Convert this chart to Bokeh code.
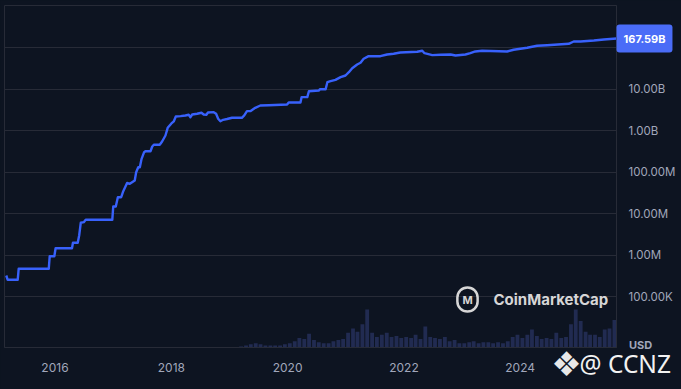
import pandas as pd
from bokeh.plotting import figure
from bokeh.layouts import column
from bokeh.models import Range1d, LinearScale, FixedTicker, DatetimeTickFormatter, Label
from bokeh.embed import file_html
from bokeh.resources import INLINE

# ---------------- data ----------------
dates = [
    "2015-03-01", "2015-03-10", "2015-05-12", "2015-05-18", "2015-11-23", "2015-11-29",
    "2015-12-28", "2016-01-05", "2016-04-17", "2016-04-23", "2016-05-23", "2016-06-01",
    "2016-06-11", "2016-06-30", "2016-07-12", "2016-12-26", "2017-01-01", "2017-01-17",
    "2017-01-30", "2017-02-20", "2017-03-05", "2017-03-29", "2017-04-15", "2017-05-16",
    "2017-05-25", "2017-06-07", "2017-06-17", "2017-06-28", "2017-07-14", "2017-07-22",
    "2017-08-23", "2017-09-03", "2017-09-13", "2017-10-20", "2017-11-04", "2017-11-25",
    "2017-12-09", "2017-12-31", "2018-01-16", "2018-01-29", "2018-02-28", "2018-03-30",
    "2018-04-20", "2018-05-01", "2018-05-12", "2018-06-12", "2018-07-09", "2018-07-23",
    "2018-08-09", "2018-08-19", "2018-09-24", "2018-10-09", "2018-10-22", "2018-11-05",
    "2018-11-22", "2018-12-17", "2019-01-17", "2019-03-20", "2019-04-04", "2019-04-21",
    "2019-05-12", "2019-06-12", "2019-07-14", "2019-09-05", "2019-12-29", "2020-01-08",
    "2020-03-22", "2020-03-29", "2020-05-04", "2020-05-14", "2020-07-16", "2020-07-22",
    "2020-08-27", "2020-09-07", "2020-09-27", "2020-10-28", "2020-11-29", "2020-12-30",
    "2021-01-20", "2021-02-10", "2021-03-13", "2021-04-03", "2021-04-23", "2021-05-24",
    "2021-08-06", "2021-09-17", "2021-10-28", "2021-12-09", "2022-03-25", "2022-04-26",
    "2022-05-10", "2022-06-28", "2022-08-19", "2022-10-21", "2022-11-21", "2023-01-22",
    "2023-02-22", "2023-03-25", "2023-05-07", "2023-10-11", "2023-11-21", "2024-02-14",
    "2024-04-16", "2024-06-18", "2024-11-01", "2024-12-02", "2025-01-14", "2025-04-08",
    "2025-06-10", "2025-08-28",
]
market_cap = [
    326e3, 257e3, 257e3, 473e3, 473e3, 951e3,
    951e3, 1.48e6, 1.48e6, 2.0e6, 2.0e6, 3.0e6,
    6.07e6, 6.28e6, 7.16e6, 7.16e6, 15.0e6, 15.0e6,
    25.1e6, 25.1e6, 35.1e6, 55.2e6, 52.8e6, 63.4e6,
    100e6, 132.7e6, 132.7e6, 211e6, 305e6, 322e6,
    322e6, 419e6, 460e6, 460e6, 552e6, 771e6,
    1.18e9, 1.48e9, 1.68e9, 2.21e9, 2.25e9, 2.34e9,
    2.43e9, 2.13e9, 2.47e9, 2.57e9, 2.72e9, 2.47e9,
    2.43e9, 2.76e9, 2.81e9, 2.57e9, 1.95e9, 1.70e9,
    1.84e9, 1.92e9, 2.06e9, 2.06e9, 2.34e9, 2.97e9,
    2.97e9, 3.58e9, 4.07e9, 4.14e9, 4.31e9, 4.81e9,
    4.81e9, 6.46e9, 6.46e9, 9.0e9, 9.35e9, 10.0e9,
    10.0e9, 14.8e9, 15.7e9, 16.9e9, 19.6e9, 21.5e9,
    25.8e9, 32.2e9, 39.6e9, 43.5e9, 54.3e9, 62.8e9,
    62.8e9, 69.0e9, 71.7e9, 77.1e9, 80.2e9, 84.7e9,
    74.1e9, 66.4e9, 67.8e9, 69.0e9, 65.2e9, 69.0e9,
    74.1e9, 81.5e9, 84.7e9, 81.5e9, 89.6e9, 100e9,
    111.7e9, 115.5e9, 124.8e9, 141.8e9, 141.8e9, 150e9,
    158.5e9, 167.59e9,
]

# monthly trading volume (billions USD), Mar 2019 .. Aug 2025
vol_2019 = [0.25, 0.5, 0.75, 1.0, 0.75, 0.5, 0.5, 0.5, 0.5, 0.75]
vol_2020 = [1.0, 1.5, 2.25, 2.0, 3.25, 1.75, 1.25, 1.0, 1.0, 1.5, 1.75, 2.0]
vol_2021 = [3.5, 4.5, 3.75, 5.5, 9.0, 3.5, 2.5, 3.0, 3.5, 2.5, 2.75, 2.25]
vol_2022 = [2.5, 2.25, 3.0, 2.0, 5.0, 2.5, 2.25, 2.0, 2.5, 1.5, 1.75, 1.0]
vol_2023 = [1.0, 1.25, 1.5, 1.0, 1.25, 1.25, 1.0, 1.25, 1.0, 1.5, 2.5, 3.0]
vol_2024 = [2.25, 3.0, 4.25, 2.75, 2.0, 2.25, 2.0, 3.5, 2.25, 2.5, 5.5, 9.0]
vol_2025 = [6.25, 3.75, 3.0, 3.0, 2.5, 4.25, 4.5, 6.5]
volume = vol_2019 + vol_2020 + vol_2021 + vol_2022 + vol_2023 + vol_2024 + vol_2025
vol_months = list(pd.date_range("2019-03-01", periods=len(volume), freq="MS") + pd.Timedelta(days=14))

y_tick_values = [1e5, 1e6, 1e7, 1e8, 1e9, 1e10, 1e11]
y_tick_labels = ["100.00K", "1.00M", "10.00M", "100.00M", "1.00B", "10.00B", ""]
x_tick_years = [2016, 2018, 2020, 2022, 2024]

# ---------------- style ----------------
BG = "#0d1421"
GRID = "#272b37"
LINE = "#3861fb"
BADGE = "#4a6cf7"
TXT = "#a1a7bb"
VOL = "#242e56"
FONT = "Inter"
W, H = 681, 389

dts = pd.to_datetime(dates)
x_start = pd.Timestamp("2015-02-18")
x_end = dts[-1]

p = figure(width=W, height=H, x_axis_type="datetime", y_axis_type="log",
           y_axis_location="right", output_backend="svg", toolbar_location=None,
           x_range=Range1d(x_start, x_end), y_range=Range1d(6000, 1.045e12),
           min_border_left=4, min_border_top=5, min_border_right=65, min_border_bottom=42,
           background_fill_color=BG, border_fill_color=BG,
           outline_line_color=GRID, outline_line_width=1)
p.frame_align = False

p.extra_y_ranges = {"vol": Range1d(0, max(volume) * 9)}
p.extra_y_scales = {"vol": LinearScale()}

p.vbar(x=vol_months, top=volume, bottom=0, width=24 * 86400000, y_range_name="vol",
       fill_color=VOL, line_color=None, fill_alpha=0.9)
p.line(dts, market_cap, line_width=2.4, line_color=LINE, line_join="round")

# axes
yt = FixedTicker(ticks=y_tick_values)
p.yaxis.ticker = yt
p.ygrid.ticker = yt
p.yaxis.major_label_overrides = dict(zip(y_tick_values, y_tick_labels))
xt = FixedTicker(ticks=[pd.Timestamp(f"{y}-01-01").value / 1e6 for y in x_tick_years])
p.xaxis.ticker = xt
p.xaxis.formatter = DatetimeTickFormatter(years="%Y", months="%Y", days="%Y", hours="%Y",
                                          minutes="%Y", seconds="%Y", milliseconds="%Y",
                                          microseconds="%Y", hourmin="%Y", minsec="%Y")
p.xgrid.visible = False
p.ygrid.grid_line_color = GRID
p.ygrid.grid_line_width = 1
for ax in (p.xaxis[0], p.yaxis[0]):
    ax.axis_line_color = GRID
    ax.major_tick_line_color = None
    ax.minor_tick_line_color = None
    ax.major_label_text_color = TXT
    ax.major_label_text_font = FONT
p.yaxis.major_label_text_font_size = "11.5px"
p.yaxis.major_label_standoff = 6
p.xaxis.major_label_text_font_size = "12px"
p.xaxis.major_label_standoff = 9

# CoinMarketCap watermark (inside the frame)
p.add_layout(Label(x=463, y=48, x_units="screen", y_units="screen", text="M",
                   text_font=FONT, text_font_size="11px", text_font_style="bold",
                   text_color="#d6d6d6", text_align="center", text_baseline="middle",
                   border_line_color="#d6d6d6", border_line_width=2.5, border_radius=11,
                   padding=5))
p.add_layout(Label(x=489, y=48, x_units="screen", y_units="screen", text="CoinMarketCap",
                   text_font=FONT, text_font_size="15px", text_font_style="bold",
                   text_color="#d6d6d6", text_align="left", text_baseline="middle"))

# ---------------- transparent overlay for texts outside the plot frame ----------------
q = figure(width=W, height=H, output_backend="svg", toolbar_location=None,
           x_axis_location=None, y_axis_location=None,
           x_range=Range1d(0, W), y_range=Range1d(0, H), min_border=0,
           background_fill_alpha=0, border_fill_alpha=0, outline_line_color=None)
q.grid.visible = False
q.frame_align = False
q.margin = (-H, 0, 0, 0)

# current value badge
q.add_layout(Label(x=616, y=351, x_units="screen", y_units="screen",
                   text=f"{market_cap[-1] / 1e9:.2f}B",
                   text_align="left", text_baseline="middle",
                   text_font=FONT, text_font_size="11px", text_font_style="bold",
                   text_color="white", background_fill_color=BADGE, border_radius=3,
                   padding=7))
# unit label
q.add_layout(Label(x=640, y=45, x_units="screen", y_units="screen", text="USD",
                   text_font=FONT, text_font_size="11px", text_font_style="bold",
                   text_color=TXT, text_align="center", text_baseline="middle"))
# @CCNZ watermark
q.add_layout(Label(x=566, y=26, x_units="screen", y_units="screen", text="\u2756",
                   text_font="DejaVu Sans", text_font_size="34px",
                   text_color="#e8e8e8", text_align="center", text_baseline="middle"))
q.add_layout(Label(x=579, y=26, x_units="screen", y_units="screen", text="@ CCNZ",
                   text_font="Noto Sans", text_font_size="24.5px",
                   text_color="#f2f2f2", text_align="left", text_baseline="middle"))

layout = column(p, q, spacing=0)
html = file_html(layout, INLINE)
html = html.replace("<head>", "<head><style>html,body{background:#0d1421;}</style>", 1)
open("out.html", "w").write(html)
